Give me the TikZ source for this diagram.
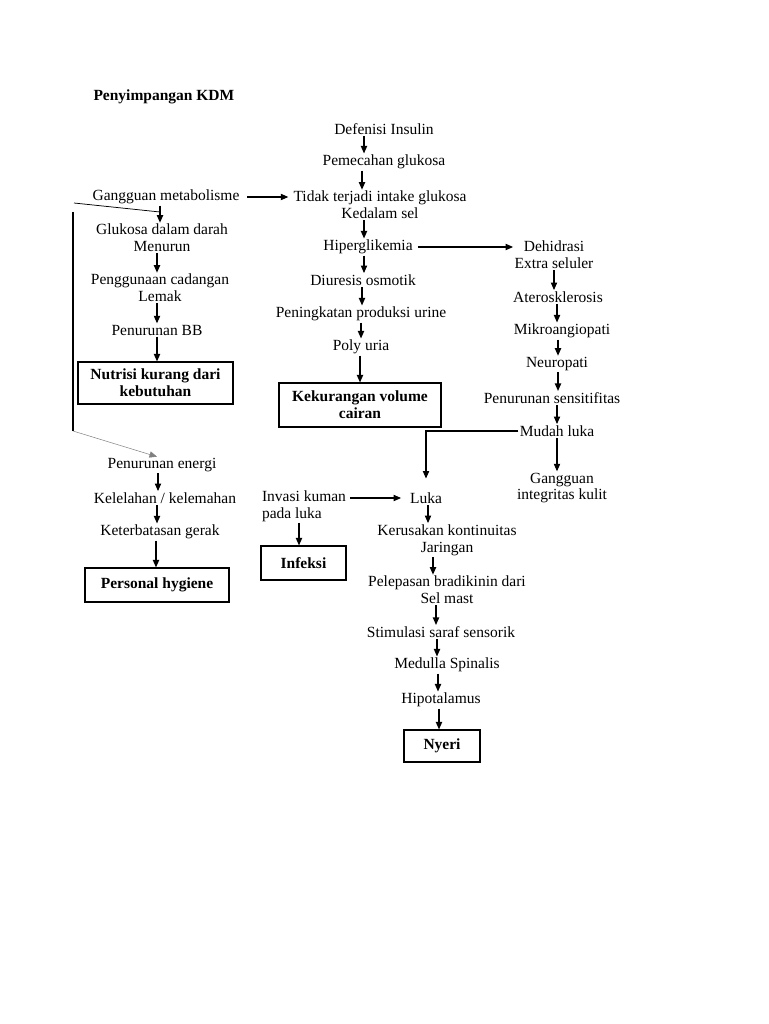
\documentclass[tikz,border=0pt]{standalone}
\usepackage{fontspec}
\setmainfont{Liberation Serif}
\usetikzlibrary{arrows.meta}

\begin{document}
\begin{tikzpicture}[x=0.8pt,y=-0.8pt]

\def\lw{0.9pt}

\tikzset{txt/.style = {align=center, inner sep=1pt, font=\fontsize{12.4}{13.4}\selectfont},
         res/.style = {draw, line width=\lw, inner sep=0pt, align=center, font=\fontsize{12.4}{13.4}\selectfont\bfseries},
         arr/.style = {line width=\lw, -{Triangle[length=6pt,width=5pt]}}}

\newcommand{\dn}[3]{\draw[arr] (#1.south-|#3,0) -- (#2.north-|#3,0);}

\path[fill=white,use as bounding box] (0,0) rectangle (768,1024);

\node[txt, anchor=west, font=\fontsize{12.4}{13.4}\selectfont\bfseries] (T) at (92,97) {Penyimpangan KDM};

% middle
\node[txt] (M1) at (384,129) {Defenisi Insulin};
\node[txt] (M2) at (384,162) {Pemecahan glukosa};
\node[txt] (M3) at (380,205) {Tidak terjadi intake glukosa\\Kedalam sel};
\node[txt] (M4) at (368,247) {Hiperglikemia};
\node[txt] (M5) at (363,280) {Diuresis osmotik};
\node[txt] (M6) at (361,314) {Peningkatan produksi urine};
\node[txt] (M7) at (361,347) {Poly uria};
\node[res, minimum width=129.6pt, minimum height=35.2pt] (M8) at (360,405) {Kekurangan volume\\cairan};

% left
\node[txt] (L1) at (166,197) {Gangguan metabolisme};
\node[txt] (L2) at (162,238) {Glukosa dalam darah\\Menurun};
\node[txt] (L3) at (160,288) {Penggunaan cadangan\\Lemak};
\node[txt] (L4) at (157,330) {Penurunan BB};
\node[res, minimum width=124pt, minimum height=33.6pt] (L5) at (155.5,383) {Nutrisi kurang dari\\kebutuhan};
\node[txt] (L6) at (162,465) {Penurunan energi};
\node[txt] (L7) at (165,498) {Kelelahan / kelemahan};
\node[txt] (L8) at (160,532) {Keterbatasan gerak};
\node[res, minimum width=115.2pt, minimum height=27.2pt] (L9) at (157,585) {Personal hygiene};

% right
\node[txt] (R1) at (554,255) {Dehidrasi\\Extra seluler};
\node[txt] (R2) at (558,297) {Aterosklerosis};
\node[txt] (R3) at (562,331) {Mikroangiopati};
\node[txt] (R4) at (557,364) {Neuropati};
\node[txt] (R5) at (552,398) {Penurunan sensitifitas};
\node[txt] (R6) at (557,431) {Mudah luka};
\node[txt] (R7) at (562,488) {Gangguan\\integritas kulit};

% bottom
\node[txt] (B1) at (426,498) {Luka};
\node[txt, align=left] (B2) at (304,506) {Invasi kuman\\ pada luka};
\node[res, minimum width=68pt, minimum height=27.2pt] (B3) at (303.5,563) {Infeksi};
\node[txt] (B4) at (447,540) {Kerusakan kontinuitas\\Jaringan};
\node[txt] (B5) at (447,590) {Pelepasan bradikinin dari\\Sel mast};
\node[txt] (B6) at (441,632) {Stimulasi saraf sensorik};
\node[txt] (B7) at (447,665) {Medulla Spinalis};
\node[txt] (B8) at (441,700) {Hipotalamus};
\node[res, minimum width=60.8pt, minimum height=25.6pt] (B9) at (442,746) {Nyeri};

% arrows middle
\dn{M1}{M2}{364}
\dn{M2}{M3}{362}
\dn{M3}{M4}{364}
\dn{M4}{M5}{364}
\dn{M5}{M6}{362}
\dn{M6}{M7}{361}
\dn{M7}{M8}{360}

% arrows left
\dn{L1}{L2}{160}
\dn{L2}{L3}{157}
\dn{L3}{L4}{157}
\dn{L4}{L5}{157}
\dn{L6}{L7}{158}
\dn{L7}{L8}{157}
\dn{L8}{L9}{156}

% arrows right
\dn{R1}{R2}{554}
\dn{R2}{R3}{557}
\dn{R3}{R4}{558}
\dn{R4}{R5}{558}
\dn{R5}{R6}{557}
\dn{R6}{R7}{557}

% arrows bottom
\dn{B2}{B3}{299}
\dn{B1}{B4}{428}
\dn{B4}{B5}{433}
\dn{B5}{B6}{436}
\dn{B6}{B7}{437}
\dn{B7}{B8}{438}
\dn{B8}{B9}{439}

% side arrows
\draw[arr, shorten <=5pt, shorten >=3pt] (L1.east) -- (M3.west |- L1.east);
\draw[arr, shorten <=3pt] (M4.east) -- (R1.west |- M4.east);
\draw[arr, shorten <=2pt, shorten >=6pt] (B2.east |- B1.west) -- (B1.west);
\draw[arr, shorten >=10pt] (R6.west) -- (R6.west -| B1.north) -- (B1.north);

% bracket
\coordinate (K0) at (160,212);
\coordinate (K1) at (74,203);
\coordinate (K2) at (73,212);
\coordinate (K3) at (73,431);
\draw[line width=0.6pt] (K0) -- (K1);
\draw[line width=\lw] (K2) -- (K3);
\draw[arr, line width=0.4pt, gray] (K3) -- (L6.north-|157,0);

\end{tikzpicture}
\end{document}
